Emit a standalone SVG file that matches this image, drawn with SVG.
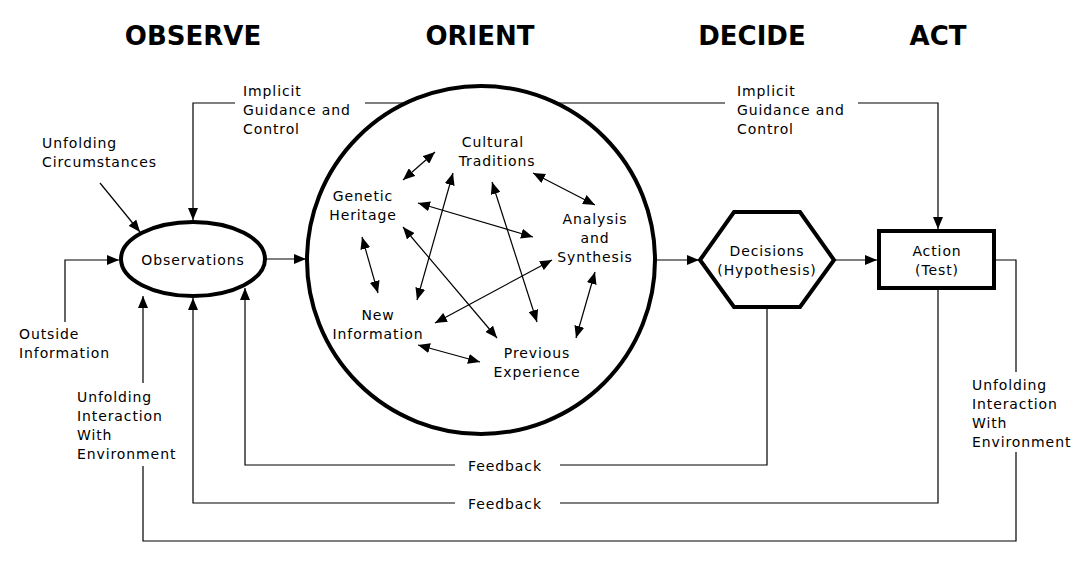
<svg xmlns="http://www.w3.org/2000/svg" width="1089" height="582" viewBox="0 0 1089 582">
<style>
text{font-family:"DejaVu Sans","Liberation Sans",sans-serif;font-size:14px;fill:#000;letter-spacing:0.9px}
.h{font-size:26px;font-weight:bold;text-anchor:middle;letter-spacing:0}
.c{text-anchor:middle}
.ln{fill:none;stroke:#000;stroke-width:1.2}
.nd{fill:#fff;stroke:#000;stroke-width:4}
</style>
<defs>
<marker id="a" viewBox="0 0 12 10" refX="12" refY="5" markerWidth="12" markerHeight="10" markerUnits="userSpaceOnUse" orient="auto-start-reverse"><path d="M0,0L12,5L0,10z"/></marker>
</defs>
<rect width="1089" height="582" fill="#fff"/>
<text class="h" x="193" y="45">OBSERVE</text>
<text class="h" x="480" y="45">ORIENT</text>
<text class="h" x="752" y="45">DECIDE</text>
<text class="h" x="938" y="45">ACT</text>
<g id="orient"><circle class="nd" cx="481" cy="260" r="174"/>
<text class="c" x="493" y="147">Cultural</text><text class="c" x="497" y="166">Traditions</text>
<text class="c" x="363" y="201">Genetic</text><text class="c" x="363" y="220">Heritage</text>
<text class="c" x="595" y="224">Analysis</text><text class="c" x="595" y="243">and</text><text class="c" x="595" y="262">Synthesis</text>
<text class="c" x="378" y="320">New</text><text class="c" x="378" y="339">Information</text>
<text class="c" x="537" y="358">Previous</text><text class="c" x="537" y="377">Experience</text>
</g>
<g id="observations"><ellipse class="nd" cx="193" cy="259" rx="72" ry="37"/><text class="c" x="193" y="265">Observations</text></g>
<g id="decisions"><path class="nd" d="M700,260L734,212H800L834,260L800,307H734z"/><text class="c" x="767" y="256">Decisions</text><text class="c" x="767" y="275">(Hypothesis)</text></g>
<g id="action"><rect class="nd" x="879" y="231" width="115" height="57"/><text class="c" x="937" y="256">Action</text><text class="c" x="937" y="275">(Test)</text></g>
<g id="connectors" class="ln">
<path d="M235,103H193V220" marker-end="url(#a)"/>
<path d="M365,103H405"/>
<path d="M558,103H725"/>
<path d="M858,103H938V229" marker-end="url(#a)"/>
<path d="M100,183L140,232" marker-end="url(#a)"/>
<path d="M65,322V260H119" marker-end="url(#a)"/>
<path d="M266,259H306" marker-end="url(#a)"/>
<path d="M656,260H699" marker-end="url(#a)"/>
<path d="M835,260H877" marker-end="url(#a)"/>
<path d="M767,309V465H560M455,465H245V288" marker-end="url(#a)"/>
<path d="M938,290V503H560M455,503H193V298" marker-end="url(#a)"/>
<path d="M996,260H1016V372M1016,452V541H143V466M143,383V296" marker-end="url(#a)"/>
<path d="M403,180L435,152" marker-start="url(#a)" marker-end="url(#a)"/>
<path d="M453,173L417,300" marker-start="url(#a)" marker-end="url(#a)"/>
<path d="M492,182L537,322" marker-start="url(#a)" marker-end="url(#a)"/>
<path d="M533,173L595,205" marker-start="url(#a)" marker-end="url(#a)"/>
<path d="M418,203L533,237" marker-start="url(#a)" marker-end="url(#a)"/>
<path d="M403,227L497,338" marker-start="url(#a)" marker-end="url(#a)"/>
<path d="M362,237L378,293" marker-start="url(#a)" marker-end="url(#a)"/>
<path d="M552,260L435,323" marker-start="url(#a)" marker-end="url(#a)"/>
<path d="M595,272L576,338" marker-start="url(#a)" marker-end="url(#a)"/>
<path d="M418,345L480,362" marker-start="url(#a)" marker-end="url(#a)"/>
</g>
<g id="labels">
<text x="243" y="96">Implicit</text><text x="243" y="115">Guidance and</text><text x="243" y="134">Control</text>
<text x="737" y="96">Implicit</text><text x="737" y="115">Guidance and</text><text x="737" y="134">Control</text>
<text x="42" y="148">Unfolding</text><text x="42" y="167">Circumstances</text>
<text x="19" y="339">Outside</text><text x="19" y="358">Information</text>
<text x="77" y="402">Unfolding</text><text x="77" y="421">Interaction</text><text x="77" y="440">With</text><text x="77" y="459">Environment</text>
<text x="972" y="390">Unfolding</text><text x="972" y="409">Interaction</text><text x="972" y="428">With</text><text x="972" y="447">Environment</text>
<text class="c" x="505" y="471">Feedback</text>
<text class="c" x="505" y="509">Feedback</text>
</g>
</svg>
